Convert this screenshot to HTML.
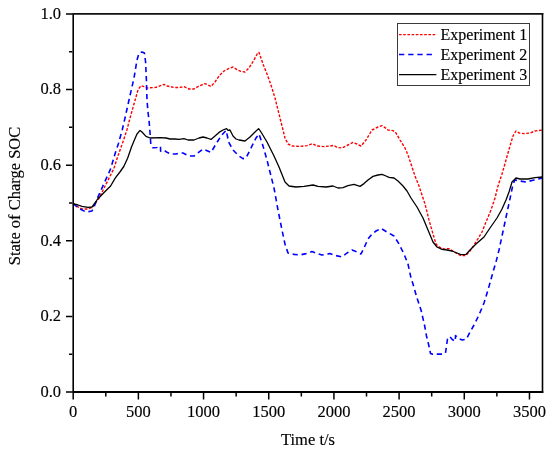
<!DOCTYPE html>
<html><head><meta charset="utf-8"><title>State of Charge SOC</title>
<style>html,body{margin:0;padding:0;background:#fff;}svg{display:block;}</style>
</head><body>
<svg width="550" height="450" viewBox="0 0 550 450"><polyline points="73,203.5 78,207 82,209 88,209 93,207 96,202 98.9,198.4 105.9,184.4 113.7,168.9 118.3,154.9 122.2,144 126.9,130 129.5,120 134,104 138,90 141,85.6 144,86.6 147,88 156,87.4 164,84.4 167,86 174,87.4 179,87.6 184,86.6 189,89 194,89 199,86 205,83.6 211,86.4 215,82 219,76 224,71 229,68.4 233,67 237,69.6 241,71.4 245,72 249,68 254,60 258,52.4 259,52.4 263,64 267,74 271,85 275,98 278,110 282,126 285,138 288,144 292,146 300,146.4 307,145.6 312.4,143.6 317,146 324,146.6 330,146 334,145.4 337,147.4 342,148 348,145 353,142.4 357,144 361,146 366,140 372,130 378,127 382,125.6 385,127.6 388,130 393,130.6 396,133 400,140 405,148 408,155 411,164 415,176 419,186 423,198 425,204 429,220 433,234 436,244 439,247 444,249 449,248.6 453,251 457,253.6 461,255.6 466,255.4 470,251 476,242 482,232 486,222 491,210 495,198 498,186 502,174 506,160 510,146 513,136 516,131 519,133 524,133.6 530,133 535,131 542.3,130" fill="none" stroke="#ff0000" stroke-width="1.4" stroke-dasharray="2.8 1.6" stroke-linejoin="round"/>
<polyline points="73,203.5 76,206 80,209 86,212 92,211 94,207 97.3,198.4 104.3,182.9 110.6,168.9 115.2,153.3 118.3,144 122.2,130 125,118 129,100 134,78 137,60 139,53 142,52 144.4,53 145.6,62 146.4,80 147,100 148,112 149,120 150.3,136 150.8,144.4 152.8,147.8 157,147.5 160.5,146.3 160.6,151.3 164,150 167,152.3 171,154 176,154 180,153 183,153 189,156 194,156 203,149 211,152.4 216,144 221,136 226,130.4 227.4,136 228.6,142 233,150 239,156 243,158.6 246,158 251,148 256,138 259,134 263,146 267,160 270,172 274,188 278,210 282,230 285,244 288,253 294,254.4 300,255 306,253.6 312,251.6 317,253.6 322,255 330,253.6 336,255.6 342,257 347,253 352,250 356,251.6 361,254 364,248 368,239 372,234 376,231 381,228.4 387,232 394,236 399,244 404,254 408,264 411,278 413,284 417,298 421,310 424.5,325 426.5,336 428.6,344.5 430.5,353.5 432,354.1 442.5,354.1 445.5,353 446.5,346 447.5,339 448,337.5 450,336.8 452.3,339.5 455.3,341.2 455.5,335.5 458.6,338.5 462.3,340 466.4,339.1 469,334 474,325 479,315 484,303 488,290 493,272 496,262 499,250 502,236 505,222 508,208 511,194 513,184 515,180 520,181 526,182 534,180 542.3,178" fill="none" stroke="#0000ff" stroke-width="1.6" stroke-dasharray="5.2 3.8" stroke-linejoin="round"/>
<polyline points="73,203.6 78,205 82,206.4 88,207.4 92,207 95,203 97.3,199.5 104.3,192.2 110.6,186 115.2,178.2 119.9,172 123.8,166.5 127.7,158 131.5,147 134.7,139.3 137,134 140,130.4 142,132 146,136.4 150,138 160,137.6 166,138 170,139 175,139 179,139.4 184,138.6 188,140 194,140 199,138 203,137 207,138 211,139.4 215,136 219,132.4 223,130 226.6,128.6 228,130.4 230,130 233,136 236,139 239,140 245,141 250,137 255,132 258.6,128.6 261,132 267,142 270,148 274,156 279,167 285,182 289,186 296,187 304,186.4 313,185 318,186.4 326,187 333,186 338,188 343,187.6 348,185.6 354,184.4 360,186.4 364,183.6 368,180 373,176.4 378,175 382,174.4 386,176 389,177.4 394,178 398,181 403,186 407,191 411,198 417,207 423,218 428,230 433,242 437,247 442,249.4 447,250 452,251 457,253 461,254.6 466,254.4 470,250 476,244 484,237 490,228 497,218 502,209 506,200 509,192 512,182 516,178 520,179 528,179 535,177.6 542.3,177" fill="none" stroke="#000" stroke-width="1.3" stroke-linejoin="round"/>
<path d="M73.2 13.0V393.0" stroke="#000" stroke-width="1.6"/>
<path d="M542.5 13.0V393.0" stroke="#000" stroke-width="1.6"/>
<path d="M72.4 13.9H543.3" stroke="#111" stroke-width="1.8"/>
<path d="M72.4 392.0H543.3" stroke="#000" stroke-width="2"/>
<path d="M73.20 393.0v6.5 M105.79 393.0v3.5 M138.38 393.0v6.5 M170.97 393.0v3.5 M203.56 393.0v6.5 M236.15 393.0v3.5 M268.74 393.0v6.5 M301.33 393.0v3.5 M333.92 393.0v6.5 M366.51 393.0v3.5 M399.10 393.0v6.5 M431.69 393.0v3.5 M464.28 393.0v6.5 M496.87 393.0v3.5 M529.46 393.0v6.5 M72.4 392.00h-6.4 M72.4 354.19h-3.4 M72.4 316.38h-6.4 M72.4 278.57h-3.4 M72.4 240.76h-6.4 M72.4 202.95h-3.4 M72.4 165.14h-6.4 M72.4 127.33h-3.4 M72.4 89.52h-6.4 M72.4 51.71h-3.4 M72.4 13.90h-6.4" stroke="#000" stroke-width="1.5" fill="none"/>
<g font-family='"Liberation Serif", "Times New Roman", serif' font-size="16.5" fill="#000" stroke="#000" stroke-width="0.15"><text x="73.20" y="417" text-anchor="middle">0</text><text x="138.38" y="417" text-anchor="middle">500</text><text x="203.56" y="417" text-anchor="middle">1000</text><text x="268.74" y="417" text-anchor="middle">1500</text><text x="333.92" y="417" text-anchor="middle">2000</text><text x="399.10" y="417" text-anchor="middle">2500</text><text x="464.28" y="417" text-anchor="middle">3000</text><text x="529.46" y="417" text-anchor="middle">3500</text><text x="61" y="396.80" text-anchor="end">0.0</text><text x="61" y="321.18" text-anchor="end">0.2</text><text x="61" y="245.56" text-anchor="end">0.4</text><text x="61" y="169.94" text-anchor="end">0.6</text><text x="61" y="94.32" text-anchor="end">0.8</text><text x="61" y="18.70" text-anchor="end">1.0</text><text x="308" y="444.5" text-anchor="middle">Time t/s</text><text transform="translate(20,196) rotate(-90)" text-anchor="middle">State of Charge SOC</text></g>
<rect x="397.5" y="23.5" width="132" height="62" fill="#fff" stroke="#3a3a3a" stroke-width="1"/>
<line x1="399" y1="34.6" x2="436" y2="34.6" stroke="#ff0000" stroke-width="1.4" stroke-dasharray="2.6 1.6"/>
<line x1="399" y1="54.5" x2="432" y2="54.5" stroke="#0000ff" stroke-width="1.5" stroke-dasharray="5.3 3.9"/>
<line x1="399" y1="74.6" x2="436.4" y2="74.6" stroke="#000" stroke-width="1.3"/>
<g font-family='"Liberation Serif", "Times New Roman", serif' font-size="16" fill="#000" stroke="#000" stroke-width="0.15"><text x="440.5" y="39.8">Experiment 1</text><text x="440.5" y="59.8">Experiment 2</text><text x="440.5" y="79.8">Experiment 3</text></g></svg>
</body></html>
